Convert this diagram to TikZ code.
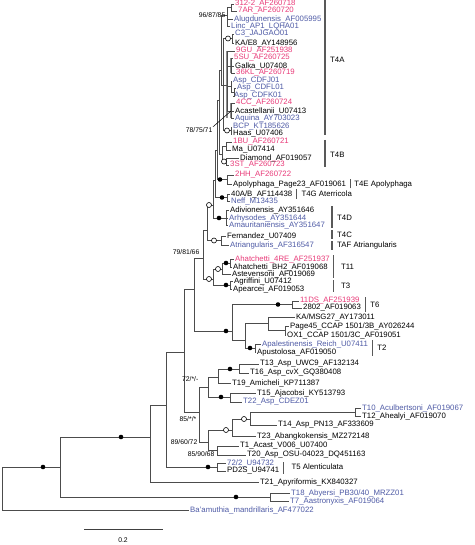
\documentclass[tikz,border=0pt]{standalone}
\usepackage{fontspec}
\setmainfont{Liberation Sans}
\definecolor{pk}{RGB}{232,58,120}
\definecolor{bl}{RGB}{78,90,165}
\newcommand\tipnode[5]{\node[tipl,text=#4] (#1) at (#2-1,#3) {#5};}
\newcommand\brr[2]{\draw[br] (#1) |- (#2);}
\newcommand\brt[2]{\draw[br] (#1) |- (#2.west);}
\begin{document}
\begin{tikzpicture}[x=1pt,y=-1pt,
 tipl/.style={anchor=west,inner xsep=1pt,inner ysep=0pt,font=\fontsize{7.8}{8}\selectfont},
 br/.style={draw=black!70,line width=0.7pt},
 gbr/.style={draw=black!45,line width=1.6pt},
 fdot/.style={circle,fill=black,inner sep=0pt,minimum size=4.6pt},
 odot/.style={circle,draw=black,fill=white,line width=0.6pt,inner sep=0pt,minimum size=5pt},
 suplab/.style={font=\fontsize{6.8}{7}\selectfont,inner sep=0.5pt},
 clab/.style={anchor=west,font=\fontsize{7.8}{8}\selectfont,inner sep=0pt},
 cbar/.style={draw=black!65,line width=1.1pt}]
\useasboundingbox (0,0) rectangle (474,545);
% tips
\tipnode{t1}{235}{4}{pk}{312-2\_AF260718}
\tipnode{t2}{238}{11}{pk}{7AR\_AF260720}
\tipnode{t3}{234}{19}{bl}{Alugdunensis\_AF005995}
\tipnode{t4}{231}{26}{bl}{Linc\_AP1\_LQHA01}
\tipnode{t5}{235}{34}{bl}{C3\_JAJGAO01}
\tipnode{t6}{235}{43}{black}{KA/E8\_AY148956}
\tipnode{t7}{236}{51}{pk}{9GU\_AF251938}
\tipnode{t8}{234}{58}{pk}{5SU\_AF260725}
\tipnode{t9}{235}{66}{black}{Galka\_U07408}
\tipnode{t10}{236}{73}{pk}{36KL\_AF260719}
\tipnode{t11}{233}{81}{bl}{Asp\_CDFJ01}
\tipnode{t12}{237}{88}{bl}{Asp\_CDFL01}
\tipnode{t13}{234}{96}{bl}{Asp\_CDFK01}
\tipnode{t14}{236}{103}{pk}{4CC\_AF260724}
\tipnode{t15}{235}{111}{black}{Acastellanii\_U07413}
\tipnode{t16}{235}{118}{bl}{Aquina\_AY703023}
\tipnode{t17}{233}{127}{bl}{BCP\_KT185626}
\tipnode{t18}{233}{134}{black}{Haas\_U07406}
\tipnode{t19}{233}{142}{pk}{1BU\_AF260721}
\tipnode{t20}{232}{150}{black}{Ma\_U07414}
\tipnode{t21}{240}{158}{black}{Diamond\_AF019057}
\tipnode{t22}{230}{165}{pk}{3ST\_AF260723}
\tipnode{t23}{235}{175}{pk}{2HH\_AF260722}
\tipnode{t24}{233}{184}{black}{Apolyphaga\_Page23\_AF019061}
\tipnode{t25}{231}{194}{black}{40A/B\_AF114438}
\tipnode{t26}{231}{201}{bl}{Neff\_M13435}
\tipnode{t27}{230}{210}{black}{Adivionensis\_AY351646}
\tipnode{t28}{229}{218}{bl}{Arhysodes\_AY351644}
\tipnode{t29}{229}{225}{bl}{Amauritaniensis\_AY351647}
\tipnode{t30}{227}{236}{black}{Fernandez\_U07409}
\tipnode{t31}{230}{245}{bl}{Atriangularis\_AF316547}
\tipnode{t32}{235}{259}{pk}{Ahatchetti\_4RE\_AF251937}
\tipnode{t33}{233}{267}{black}{Ahatchetti\_BH2\_AF019068}
\tipnode{t34}{232}{274}{black}{Astevensoni\_AF019069}
\tipnode{t35}{234}{281}{black}{Agriffini\_U07412}
\tipnode{t36}{233}{289}{black}{Apearcei\_AF019053}
\tipnode{t37}{300}{301}{pk}{11DS\_AF251939}
\tipnode{t38}{303}{308}{black}{2802\_AF019063}
\tipnode{t39}{296}{317}{black}{KA/MSG27\_AY173011}
\tipnode{t40}{290}{326}{black}{Page45\_CCAP 1501/3B\_AY026244}
\tipnode{t41}{287}{335}{black}{OX1\_CCAP 1501/3C\_AF019051}
\tipnode{t42}{262}{344}{bl}{Apalestinensis\_Reich\_U07411}
\tipnode{t43}{257}{352}{black}{Apustolosa\_AF019050}
\tipnode{t44}{260}{364}{black}{T13\_Asp\_UWC9\_AF132134}
\tipnode{t45}{250}{373}{black}{T16\_Asp\_cvX\_GQ380408}
\tipnode{t46}{232}{383}{black}{T19\_Amicheli\_KP711387}
\tipnode{t47}{257}{393}{black}{T15\_Ajacobsi\_KY513793}
\tipnode{t48}{243}{402}{bl}{T22\_Asp\_CDEZ01}
\tipnode{t49}{362}{408}{bl}{T10\_Aculbertsoni\_AF019067}
\tipnode{t50}{362}{416}{black}{T12\_Ahealyi\_AF019070}
\tipnode{t51}{278}{425}{black}{T14\_Asp\_PN13\_AF333609}
\tipnode{t52}{257}{436}{black}{T23\_Abangkokensis\_MZ272148}
\tipnode{t53}{240}{446}{black}{T1\_Acast\_V006\_U07400}
\tipnode{t54}{247}{455}{black}{T20\_Asp\_OSU-04023\_DQ451163}
\tipnode{t55}{227}{463}{bl}{72/2\_U94732}
\tipnode{t56}{227}{471}{black}{PD2S\_U94741}
\tipnode{t57}{260}{482}{black}{T21\_Apyriformis\_KX840327}
\tipnode{t58}{291}{493}{bl}{T18\_Abyersi\_PB30/40\_MRZZ01}
\tipnode{t59}{290}{501}{bl}{T7\_Aastronyxis\_AF019064}
\tipnode{t60}{190}{510}{bl}{Ba'amuthia\_mandrillaris\_AF477022}
% internal nodes
\coordinate (R) at (2,488);
\coordinate (B) at (60,467);
\coordinate (N1817) at (270,497);
\coordinate (C) at (150,437);
\coordinate (D) at (166,405);
\coordinate (N5) at (217,467);
\coordinate (E) at (184,352);
\coordinate (F) at (199,412);
\coordinate (K) at (208,387);
\coordinate (L) at (218,377);
\coordinate (M) at (239,369);
\coordinate (Nq) at (230,397);
\coordinate (H) at (208,442);
\coordinate (P) at (232,430);
\coordinate (S) at (250,419);
\coordinate (N1012) at (355,412);
\coordinate (Q) at (217,450.5);
\coordinate (G) at (194,289);
\coordinate (Z) at (232,331);
\coordinate (T6n) at (292,304.5);
\coordinate (T2r) at (245,340);
\coordinate (T2a) at (268,323);
\coordinate (T2c) at (285,330.5);
\coordinate (T2b) at (255,348);
\coordinate (U) at (203,258);
\coordinate (V) at (213,279);
\coordinate (W) at (222,269);
\coordinate (X) at (230,263);
\coordinate (Y) at (230,285);
\coordinate (T4r) at (207,230);
\coordinate (T4CT) at (221,240.5);
\coordinate (T4s) at (213,205);
\coordinate (T4Dn) at (226,218);
\coordinate (T4t) at (215,180);
\coordinate (T4Gn) at (227,197.5);
\coordinate (T4u) at (217,150);
\coordinate (T4En) at (227,179.5);
\coordinate (T4AB) at (219,100);
\coordinate (T4Bn) at (222,154);
\coordinate (T4B1) at (226,146);
\coordinate (T4B2) at (226,161.5);
\coordinate (T4A) at (221,70);
\coordinate (a) at (227,15);
\coordinate (a1) at (231,7.5);
\coordinate (b) at (223,85);
\coordinate (cC3) at (232,38.5);
\coordinate (c2) at (227,85);
\coordinate (c21) at (231,66);
\coordinate (c22) at (231,86);
\coordinate (c22b) at (234,92);
\coordinate (c23) at (231,111);
\coordinate (cBCP) at (231,130.5);
% grey overlapping stems in T4A
\draw[gbr] (c2 |- t7) coordinate (g1) -- (c2 |- t16) coordinate (g2);
\draw[gbr] (c21 |- t8) coordinate (g3) -- (c21 |- t10) coordinate (g4);
\draw[gbr] (c23 |- t14) coordinate (g5) -- (c23 |- t16) coordinate (g6);
% branches
\brr{R}{B}\brt{R}{t60}
\brr{B}{C}\brr{B}{N1817}
\brt{N1817}{t58}\brt{N1817}{t59}
\brr{C}{D}\brt{C}{t57}
\brr{D}{E}\brr{D}{N5}
\brt{N5}{t55}\brt{N5}{t56}
\brr{E}{G}\brr{E}{F}
\brr{F}{K}\brr{F}{H}
\brr{K}{L}\brr{K}{Nq}
\brr{L}{M}\brt{L}{t46}
\brt{M}{t44}\brt{M}{t45}
\brt{Nq}{t47}\brt{Nq}{t48}
\brr{H}{P}\brr{H}{Q}
\brr{P}{S}\brt{P}{t52}
\brr{S}{N1012}\brt{S}{t51}
\brt{N1012}{t49}\brt{N1012}{t50}
\brt{Q}{t53}\brt{Q}{t54}
\brr{G}{U}\brr{G}{Z}
\brr{Z}{T6n}\brr{Z}{T2r}
\brt{T6n}{t37}\brt{T6n}{t38}
\brr{T2r}{T2a}\brr{T2r}{T2b}
\brt{T2a}{t39}\brr{T2a}{T2c}
\brt{T2c}{t40}\brt{T2c}{t41}
\brt{T2b}{t42}\brt{T2b}{t43}
\brr{U}{T4r}\brr{U}{V}
\brr{V}{W}\brr{V}{Y}
\brr{W}{X}\brt{W}{t34}
\brt{X}{t32}\brt{X}{t33}
\brt{Y}{t35}\brt{Y}{t36}
\brr{T4r}{T4s}\brr{T4r}{T4CT}
\brt{T4CT}{t30}\brt{T4CT}{t31}
\brr{T4s}{T4t}\brr{T4s}{T4Dn}
\brt{T4Dn}{t27}\brt{T4Dn}{t28}\brt{T4Dn}{t29}
\brr{T4t}{T4u}\brr{T4t}{T4Gn}
\brt{T4Gn}{t25}\brt{T4Gn}{t26}
\brr{T4u}{T4AB}\brr{T4u}{T4En}
\brt{T4En}{t23}\brt{T4En}{t24}
\brr{T4AB}{T4A}\brr{T4AB}{T4Bn}
\brr{T4Bn}{T4B1}\brr{T4Bn}{T4B2}
\brt{T4B1}{t19}\brt{T4B1}{t20}
\brt{T4B2}{t21}\brt{T4B2}{t22}
\brr{T4A}{a}\brr{T4A}{b}
\brr{a}{a1}\brt{a}{t3}\brt{a}{t4}
\brt{a1}{t1}\brt{a1}{t2}
\brr{b}{cC3}\brr{b}{c2}\brr{b}{cBCP}
\brt{cC3}{t5}\brt{cC3}{t6}
\brt{c2}{t7}\brr{c2}{c21}\brr{c2}{c22}\brr{c2}{c23}
\brt{c21}{t8}\brt{c21}{t9}\brt{c21}{t10}
\brt{c22}{t11}\brr{c22}{c22b}
\brt{c22b}{t12}\brt{c22b}{t13}
\brt{c23}{t14}\brt{c23}{t15}\brt{c23}{t16}
\brt{cBCP}{t17}\brt{cBCP}{t18}
% support markers
\node[fdot] (d1) at (43,467) {};
\node[fdot] (d2) at (121,437) {};
\node[fdot] (d3) at (236,497) {};
\node[fdot] (d4) at (208,467) {};
\node[fdot] (d5) at (230,369) {};
\node[fdot] (d6) at (221,397) {};
\node[odot] (o1) at (226,430) {};
\node[odot] (o2) at (244,419) {};
\node[fdot] (d7) at (226,331) {};
\node[fdot] (d8) at (278,304.5) {};
\node[fdot] (d9) at (250,348) {};
\node[odot] (o3) at (209,279) {};
\node[odot] (o4) at (218,269) {};
\node[fdot] (d10) at (226,263) {};
\node[fdot] (d11) at (226,285) {};
\node[odot] (o5) at (214,240.5) {};
\node[odot] (o6) at (209,205) {};
\node[fdot] (d12) at (219,218) {};
\node[fdot] (d13) at (222,197.5) {};
\node[fdot] (d14) at (220,179.5) {};
\node[odot] (o7) at (228,38.5) {};
\node[odot] (o8) at (227,130.5) {};
\node[odot] (o9) at (224,161.5) {};
% support values
\node[suplab,anchor=east] (s1) at (226,15) {96/87/85};
\node[suplab,anchor=east] (s2) at (213,130) {78/75/71};
\draw[black,line width=0.5pt] (s2.north east) -- (c23);
\node[suplab,anchor=east] (s3) at (200,252) {79/81/66};
\node[suplab,anchor=east] (s4) at (199,379) {72/*/-};
\node[suplab,anchor=east] (s5) at (197,419) {85/*/*};
\node[suplab,anchor=east] (s6) at (198,442) {89/60/72};
\node[suplab,anchor=east] (s7) at (215,454) {85/90/68};
% clade bars and labels
\draw[cbar] (325,0) coordinate (bA1) -- (325,135) coordinate (bA2);
\node[clab] (lA) at (330,60) {T4A};
\draw[cbar] (325,140) coordinate (bB1) -- (325,167) coordinate (bB2);
\node[clab] (lB) at (330,155) {T4B};
\draw[cbar] ([xshift=3pt,yshift=-4.5pt]t24.east) coordinate (bE1) -- ([xshift=3pt,yshift=4.5pt]t24.east) coordinate (bE2);
\node[clab,anchor=west] (lE) at ([xshift=7pt]t24.east) {T4E Apolyphaga};
\draw[cbar] ([xshift=3pt,yshift=-5pt]t25.east) coordinate (bG1) -- ([xshift=3pt,yshift=5pt]t25.east) coordinate (bG2);
\node[clab] (lG) at ([xshift=8pt]t25.east) {T4G Aterricola};
\draw[cbar] (332,206) coordinate (bD1) -- (332,228) coordinate (bD2);
\node[clab] (lD) at (337,218) {T4D};
\draw[cbar] (332,230) coordinate (bC1) -- (332,239) coordinate (bC2);
\node[clab] (lC) at (337,235) {T4C};
\draw[cbar] (332,241) coordinate (bF1) -- (332,250) coordinate (bF2);
\node[clab] (lF) at (337,245) {TAF Atriangularis};
\draw[cbar] ([xshift=3pt]t32.east |- 255,255) coordinate (b11a) -- ([xshift=3pt]t32.east |- 278,278) coordinate (b11b);
\node[clab] (l11) at ([xshift=7pt]b11a |- 267,267) {T11};
\draw[cbar] (b11a |- 280,280) coordinate (b3a) -- (b11a |- 292,292) coordinate (b3b);
\node[clab] (l3) at ([xshift=7pt]b11a |- 286,286) {T3};
\coordinate (b6x) at ([xshift=3pt]t38.east);
\draw[cbar] (b6x |- t37.north) coordinate (b6a) -- (b6x |- t38.south) coordinate (b6b);
\node[clab] (l6) at ([xshift=5pt,yshift=3.5pt]b6x) {T6};
\coordinate (b2x) at ([xshift=3pt]t42.east);
\draw[cbar] ([yshift=4pt]b2x) coordinate (b2a) -- (b2x |- t43.south) coordinate (b2b);
\node[clab] (l2) at ([xshift=5pt,yshift=-4pt]b2x) {T2};
\draw[cbar] ([xshift=3pt]t56.east |- 462,462) coordinate (b5a) -- ([xshift=3pt]t56.east |- 474,474) coordinate (b5b);
\node[clab] (l5) at ([xshift=8pt]b5a |- 467,467) {T5 Alenticulata};
% scale bar
\draw[black!75,line width=0.7pt] (84,529) coordinate (sb1) -- (163,529) coordinate (sb2);
\node[suplab] (sbl) at (123,540) {0.2};
\end{tikzpicture}
\end{document}
